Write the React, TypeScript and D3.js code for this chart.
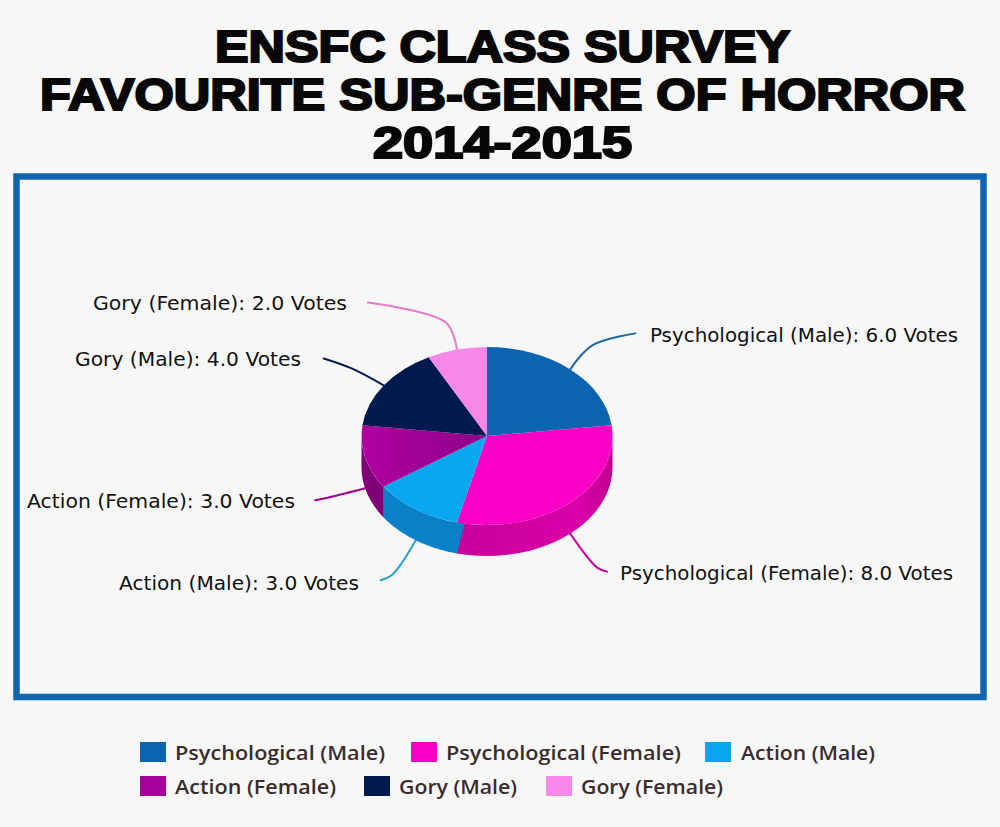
import React from "react";
import * as d3 from "d3";

const titleLines = ["ENSFC CLASS SURVEY", "FAVOURITE SUB-GENRE OF HORROR", "2014-2015"];
const categories = ["Psychological (Male)", "Psychological (Female)", "Action (Male)", "Action (Female)", "Gory (Male)", "Gory (Female)"];
const votes = [6, 8, 3, 3, 4, 2];
const topColors = ["#0a64b0", "#fa00c6", "#0aa6f0", "#a8009a", "#001a50", "#f888e8"];
const sideColors = ["#0a55a0", "#d000a0", "#0a80c8", "#800078", "#001040", "#d070c0"];
const lineColors = ["#1a68a8", "#c800a0", "#28a0d0", "#a00090", "#001a50", "#e878c8"];

// layout only
const W = 1000, H = 827;
const cx = 487, cy = 436, rx = 125.5, ry = 89, depth = 31;
const titleBoxes = [[215, 790, 62], [40, 965, 110], [373, 632, 158]];
const leaders = [
  { knot: [22, -24], end: [65, -36], tx: 650, ty: 342, w: 308, anchor: "start" },
  { knot: [27, 34], end: [37, 38], tx: 620, ty: 580, w: 333, anchor: "start" },
  { knot: [-23, 34], end: [-35, 40], tx: 119, ty: 590, w: 240, anchor: "start" },
  { knot: [-40, 10], end: [-50, 12], tx: 27, ty: 508, w: 268, anchor: "start" },
  { knot: [-32, -17], end: [-60, -27], tx: 75, ty: 366, w: 226, anchor: "start" },
  { knot: [-11, -27], end: [-89, -47], tx: 93, ty: 310, w: 254, anchor: "start" },
];
const legendBoxes = [
  { x: 140, y: 742, tx: 175, w: 210 }, { x: 411, y: 742, tx: 446, w: 235 }, { x: 705, y: 742, tx: 741, w: 134 },
  { x: 140, y: 776, tx: 175, w: 161 }, { x: 364, y: 776, tx: 399, w: 118 }, { x: 546, y: 776, tx: 581, w: 142 },
];

const pie = d3.pie<number>().sort(null).value((d) => d);
const arcs = pie(votes);
const color = d3.scaleOrdinal<number, string>().domain(d3.range(6)).range(topColors);
const sideColor = d3.scaleOrdinal<number, string>().domain(d3.range(6)).range(sideColors);
const pt = (a: number, dz = 0): [number, number] => [cx + rx * Math.sin(a), cy - ry * Math.cos(a) + dz];

function wall(a0: number, a1: number, skew = 0) {
  const lo = Math.max(a0, Math.PI / 2), hi = Math.min(a1, (3 * Math.PI) / 2);
  if (hi <= lo) return null;
  const steps = d3.range(0, 41).map((i) => lo + ((hi - lo) * i) / 40);
  const top = steps.map((a) => pt(a));
  const bottom = steps.map((a) => pt(a, depth)).reverse();
  if (skew) top[0] = pt(lo - skew);
  return d3.line()([...top, ...bottom]) + "Z";
}
const topArc = d3.arc<d3.PieArcDatum<number>>().innerRadius(0).outerRadius(rx);
const leaderLine = d3.line().curve(d3.curveCatmullRom.alpha(0.5));

export default function App() {
  return (
    <svg width={W} height={H} style={{ position: "absolute", left: 0, top: 0, background: "#f8f7f7" }}>
      <defs>
        <linearGradient id="purple" x1="0" x2="1" y1="0" y2="0">
          <stop offset="0" stopColor="#b000a0" />
          <stop offset="1" stopColor="#8c0088" />
        </linearGradient>
        <linearGradient id="pinkSide" x1="0" x2="1" y1="0" y2="0">
          <stop offset="0" stopColor="#c8009a" />
          <stop offset="0.8" stopColor="#d800a8" />
          <stop offset="1" stopColor="#c0008e" />
        </linearGradient>
      </defs>
      {titleLines.map((t, i) => (
        <text key={t} x={titleBoxes[i][0]} y={titleBoxes[i][2]} textLength={titleBoxes[i][1] - titleBoxes[i][0]} lengthAdjust="spacingAndGlyphs"
          fontFamily="'Liberation Sans', Arial, sans-serif" fontWeight={700} fontSize={44} fill="#080808" stroke="#080808" strokeWidth={2.2}>
          {t}
        </text>
      ))}
      <rect x={16.5} y={176.5} width={967} height={520.5} fill="none" stroke="#0f66b0" strokeWidth={6.5} />

      {leaders.map((l, i) => {
        const mid = (arcs[i].startAngle + arcs[i].endAngle) / 2;
        const front = mid > Math.PI / 2 && mid < (3 * Math.PI) / 2;
        const [sx, sy] = pt(mid, front ? depth : 0);
        return (
          <path key={i} fill="none" stroke={lineColors[i]} strokeWidth={2} strokeLinecap="round"
            d={leaderLine([[sx, sy], [sx + l.knot[0], sy + l.knot[1]], [sx + l.end[0], sy + l.end[1]]]) as string} />
        );
      })}

      {arcs.map((a, i) => {
        const d = wall(a.startAngle, a.endAngle, i === 2 ? 0.064 : 0);
        return d ? <path key={i} d={d} fill={i === 1 ? "url(#pinkSide)" : sideColor(i)} /> : null;
      })}
      <g transform={`translate(${cx},${cy}) scale(1,${ry / rx})`}>
        {arcs.map((a, i) => (
          <path key={i} d={topArc(a) as string} fill={i === 3 ? "url(#purple)" : color(i)} />
        ))}
      </g>

      {categories.map((c, i) => (
        <text key={c} x={leaders[i].tx} y={leaders[i].ty} textLength={leaders[i].w} lengthAdjust="spacingAndGlyphs"
          fontFamily="'DejaVu Sans', sans-serif" fontSize={20} fill="#111">
          {`${c}: ${votes[i].toFixed(1)} Votes`}
        </text>
      ))}

      {categories.map((c, i) => (
        <g key={c}>
          <rect x={legendBoxes[i].x} y={legendBoxes[i].y} width={26} height={20} fill={color(i)} />
          <text x={legendBoxes[i].tx} y={legendBoxes[i].y + 17.5} textLength={legendBoxes[i].w} lengthAdjust="spacingAndGlyphs"
            fontFamily="'Open Sans', sans-serif" fontWeight={600} fontSize={19} fill="#3a2c2c">
            {c}
          </text>
        </g>
      ))}
    </svg>
  );
}
